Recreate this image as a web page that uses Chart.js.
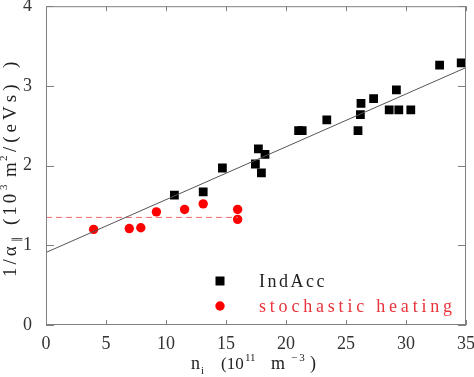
<!DOCTYPE html>
<html><head><meta charset="utf-8">
<script src="https://cdn.jsdelivr.net/npm/chart.js@4/dist/chart.umd.min.js"></script>
<style>html,body{margin:0;padding:0;background:#fff}canvas{display:block}</style>
</head><body>
<canvas id="c" width="474" height="377"></canvas>
<script>
// ---- data ----
const indAccX = [10.7, 13.1, 14.7, 17.45, 17.7, 17.95, 18.25, 21.05, 21.35, 23.4, 26.0, 26.2, 26.25, 27.3, 28.6, 29.4, 29.2, 30.4, 32.8, 34.6];
const indAccY = [1.63, 1.67, 1.97, 2.02, 2.21, 1.91, 2.14, 2.44, 2.44, 2.575, 2.44, 2.64, 2.78, 2.84, 2.70, 2.70, 2.95, 2.70, 3.26, 3.29];
const stochX = [3.97, 6.94, 7.9, 9.2, 11.55, 13.1, 15.97, 15.97];
const stochY = [1.20, 1.21, 1.22, 1.42, 1.45, 1.52, 1.45, 1.325];
const fitX = [0, 35];
const fitY = [0.91, 3.23];
const levelX = [0, 16];
const levelY = [1.35, 1.35];
const xTicks = [0, 5, 10, 15, 20, 25, 30, 35];
const yTicks = [0, 1, 2, 3, 4];
const legendLabels = ['IndAcc', 'stochastic heating'];

const pts = (xs, ys) => xs.map((x, i) => ({x, y: ys[i]}));
const FONT = '"Liberation Serif", "Times New Roman", serif';

// rich text: each segment has text, size, offset along the line (at), baseline shift (dy), letter spacing (ls)
function drawRich(ctx, segs, ox, oy, angle) {
  ctx.save();
  ctx.translate(ox, oy);
  ctx.rotate(angle);
  ctx.textBaseline = 'alphabetic';
  ctx.textAlign = 'left';
  segs.forEach(s => {
    ctx.font = s.s + 'px ' + FONT;
    if ('letterSpacing' in ctx) ctx.letterSpacing = (s.ls || 0) + 'px';
    ctx.fillText(s.t, s.at, s.dy || 0);
  });
  ctx.restore();
}

const framePlugin = {
  id: 'frame',
  afterDraw(chart) {
    const ctx = chart.ctx;
    const {left, right, top, bottom} = chart.chartArea;
    const sx = chart.scales.x, sy = chart.scales.y;
    ctx.save();
    ctx.strokeStyle = '#808080';
    ctx.lineWidth = 1;
    ctx.strokeRect(left + 0.5, top + 0.5, right - left - 1, bottom - top - 1);
    ctx.beginPath();
    xTicks.forEach(v => {
      const p = Math.round(sx.getPixelForValue(v)) + 0.5;
      ctx.moveTo(p, bottom); ctx.lineTo(p, bottom - 5);
      ctx.moveTo(p, top); ctx.lineTo(p, top + 5);
    });
    yTicks.forEach(v => {
      const p = Math.round(sy.getPixelForValue(v)) + 0.5;
      ctx.moveTo(left, p); ctx.lineTo(left + 8, p);
      ctx.moveTo(right, p); ctx.lineTo(right - 8, p);
    });
    ctx.stroke();

    // legend
    const lx = 220, ly1 = 281, ly2 = 306;
    ctx.fillStyle = '#000';
    ctx.fillRect(lx - 4.5, ly1 - 4.5, 9, 9);
    ctx.fillStyle = '#ff0000';
    ctx.beginPath(); ctx.arc(lx, ly2, 4.7, 0, Math.PI * 2); ctx.fill();
    ctx.font = '18px ' + FONT;
    ctx.textBaseline = 'middle';
    ctx.fillStyle = '#222';
    if ('letterSpacing' in ctx) ctx.letterSpacing = '2.5px';
    ctx.fillText(legendLabels[0], 259, ly1 + 1);
    ctx.fillStyle = '#e8343c';
    if ('letterSpacing' in ctx) ctx.letterSpacing = '3.8px';
    ctx.fillText(legendLabels[1], 259, ly2 + 1);
    if ('letterSpacing' in ctx) ctx.letterSpacing = '0px';

    // axis titles
    ctx.fillStyle = '#222';
    drawRich(ctx, [
      {t: '1/α', s: 19, at: 0, ls: 3},
      {t: '∥', s: 11, at: 35, dy: 4},
      {t: '(10', s: 19, at: 52, ls: 3},
      {t: '3', s: 11, at: 87, dy: -9},
      {t: 'm', s: 19, at: 100},
      {t: '2', s: 11, at: 116, dy: -9},
      {t: '/(eVs)', s: 19, at: 125, ls: 4},
      {t: ')', s: 19, at: 209}
    ], 16, 277, -Math.PI / 2);
    drawRich(ctx, [
      {t: 'n', s: 18, at: 0},
      {t: 'i', s: 11, at: 10, dy: 5},
      {t: '(10', s: 17, at: 30},
      {t: '11', s: 11, at: 54, dy: -8},
      {t: 'm', s: 18, at: 80},
      {t: '−3', s: 11, at: 100, dy: -8, ls: 2},
      {t: ')', s: 18, at: 119}
    ], 191, 369, 0);
    ctx.restore();
  }
};

new Chart(document.getElementById('c'), {
  type: 'scatter',
  data: {
    datasets: [
      {label: 'fit', type: 'line', data: pts(fitX, fitY), borderColor: '#555', borderWidth: 1, pointRadius: 0, fill: false},
      {label: 'level', type: 'line', data: pts(levelX, levelY), borderColor: '#f26b6b', borderWidth: 1, borderDash: [6, 4], pointRadius: 0, fill: false},
      {label: legendLabels[0], data: pts(indAccX, indAccY), pointStyle: 'rect', pointRadius: 6.2, pointBackgroundColor: '#000', pointBorderWidth: 0, borderColor: '#000'},
      {label: legendLabels[1], data: pts(stochX, stochY), pointStyle: 'circle', pointRadius: 4.7, pointBackgroundColor: '#ff0000', pointBorderWidth: 0, borderColor: '#f00'}
    ]
  },
  options: {
    responsive: false,
    animation: false,
    devicePixelRatio: 1,
    layout: {padding: {top: 5, right: 8, left: 0, bottom: 0}},
    plugins: {legend: {display: false}, tooltip: {enabled: false}},
    scales: {
      x: {
        type: 'linear', min: 0, max: 35,
        afterBuildTicks: s => { s.ticks = xTicks.map(v => ({value: v})); },
        afterFit: s => { s.height = 52; s.paddingLeft = 0; s.paddingRight = 0; },
        ticks: {font: {family: FONT, size: 18}, color: '#333', padding: 8, maxRotation: 0},
        grid: {display: false, drawTicks: false},
        border: {display: false}
      },
      y: {
        min: 0, max: 4,
        afterBuildTicks: s => { s.ticks = yTicks.map(v => ({value: v})); },
        afterFit: s => { s.width = 46; s.paddingTop = 0; s.paddingBottom = 0; },
        ticks: {font: {family: FONT, size: 18}, color: '#333', padding: 14},
        grid: {display: false, drawTicks: false},
        border: {display: false}
      }
    }
  },
  plugins: [framePlugin]
});
</script>
</body></html>
